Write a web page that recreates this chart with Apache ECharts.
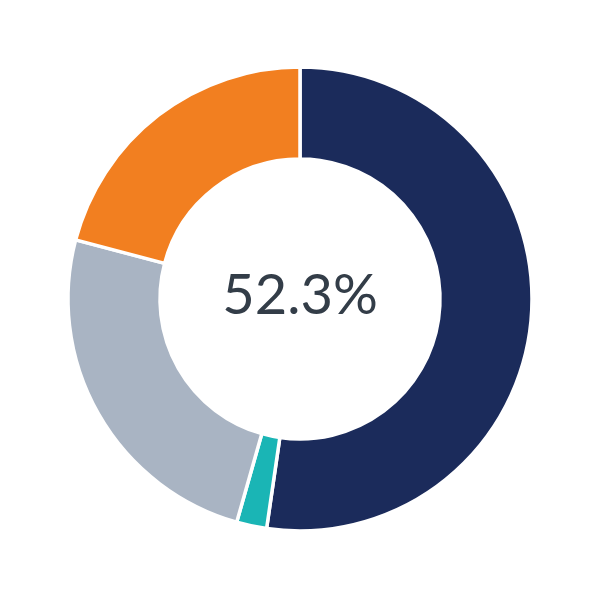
<!DOCTYPE html>
<html><head><meta charset="utf-8">
<script src="https://cdn.jsdelivr.net/npm/echarts@6/dist/echarts.min.js"></script>
<style>html,body{margin:0;padding:0;background:#fff}#c{width:600px;height:600px}</style>
</head><body><div id="c"></div>
<script>
const categories = ['A', 'B', 'C', 'D'];
const values = [52.3, 2.1, 24.7, 20.9];
const colors = ['#1b2b5b', '#1ab5b5', '#a9b4c3', '#f27f20'];
const centerLabel = '52.3%';
const chart = echarts.init(document.getElementById('c'));
chart.setOption({
  animation: false,
  graphic: [{
    type: 'text', x: 300, y: 296,
    style: { text: centerLabel, font: '400 56px Lato', fill: '#333d48', align: 'center', verticalAlign: 'middle' }
  }],
  series: [{
    type: 'pie',
    center: [300, 299],
    radius: [140, 232],
    startAngle: 90,
    clockwise: true,
    label: { show: false },
    labelLine: { show: false },
    itemStyle: { borderColor: '#fff', borderWidth: 3.5 },
    data: categories.map((n, i) => ({ name: n, value: values[i], itemStyle: { color: colors[i] } }))
  }]
});
</script></body></html>
